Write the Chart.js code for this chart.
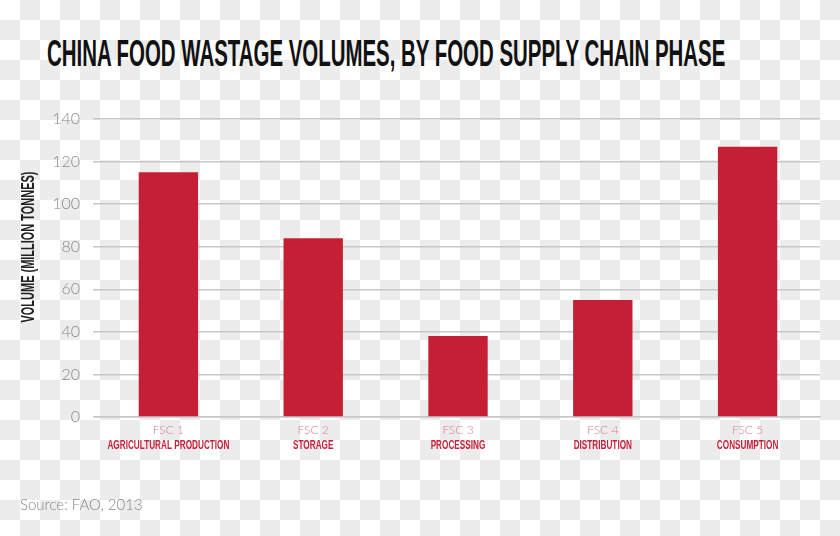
<!DOCTYPE html>
<html>
<head>
<meta charset="utf-8">
<script src="https://cdn.jsdelivr.net/npm/chart.js@4"></script>
<style>
  html, body { margin: 0; padding: 0; }
  body {
    width: 840px; height: 536px; position: relative; overflow: hidden;
    background: repeating-conic-gradient(#ececec 0 25%, #ffffff 0 50%) 0 0 / 40px 40px;
  }
  #title {
    position: absolute; left: 47px; top: 33px; white-space: nowrap;
    font-family: 'Liberation Sans', sans-serif;
    font-weight: bold; font-size: 36px; color: #111;
    transform-origin: 0 0;
  }
  #source {
    position: absolute; left: 20px; top: 495px;
    font-family: Lato, 'Open Sans', sans-serif; font-weight: 300; font-size: 15px; color: #888;
  }
  #wrap { position: absolute; left: 0; top: 0; width: 840px; height: 536px; }
</style>
</head>
<body>
<div id="title">CHINA FOOD WASTAGE VOLUMES, BY FOOD SUPPLY CHAIN PHASE</div>
<div id="wrap"><canvas id="chart"></canvas></div>
<div id="source">Source: FAO, 2013</div>
<script>
// chart data
const phaseCodes = ['FSC 1', 'FSC 2', 'FSC 3', 'FSC 4', 'FSC 5'];
const phaseNames = ['AGRICULTURAL PRODUCTION', 'STORAGE', 'PROCESSING', 'DISTRIBUTION', 'CONSUMPTION'];
const volumes = [115, 84, 38, 55, 127]; // million tonnes
const yMin = 0, yMax = 140, yStep = 20;
const yTitle = 'VOLUME (MILLION TONNES)';

const light = "Lato, 'Open Sans', sans-serif";

// squeeze the title to the reference width (no condensed font installed)
const title = document.getElementById('title');
title.style.transform = 'scaleX(' + (678 / title.offsetWidth) + ')';

// category names and y title are drawn condensed, placed off the x scale
const condensedText = {
    id: 'condensedText',
    afterDraw(chart) {
        const ctx = chart.ctx;
        const x = chart.scales.x;
        ctx.save();
        ctx.textAlign = 'center';
        ctx.textBaseline = 'middle';

        ctx.font = "bold 13px 'Liberation Sans', sans-serif";
        ctx.fillStyle = '#c8203a';
        const sx = 122 / ctx.measureText(phaseNames[0]).width;
        phaseNames.forEach((name, i) => {
            ctx.save();
            ctx.translate(x.getPixelForValue(i), 445);
            ctx.scale(sx, 1);
            ctx.fillText(name, 0, 0);
            ctx.restore();
        });

        ctx.font = "bold 18px 'Liberation Sans', sans-serif";
        ctx.fillStyle = '#222';
        const sy = 151 / ctx.measureText(yTitle).width;
        ctx.translate(29.5, 247);
        ctx.rotate(-Math.PI / 2);
        ctx.scale(sy, 1);
        ctx.fillText(yTitle, 0, 0);
        ctx.restore();
    }
};

new Chart(document.getElementById('chart'), {
    type: 'bar',
    data: {
        labels: phaseCodes,
        datasets: [{
            label: 'Volume (million tonnes)',
            data: volumes,
            backgroundColor: '#c41f35',
            barPercentage: 0.41,
            categoryPercentage: 1
        }]
    },
    options: {
        responsive: true,
        maintainAspectRatio: false,
        animation: false,
        layout: { padding: { top: 119, right: 20, bottom: 99, left: 0 } },
        plugins: { legend: { display: false }, tooltip: { enabled: false } },
        scales: {
            y: {
                min: yMin, max: yMax,
                ticks: {
                    stepSize: yStep, padding: 13,
                    color: '#8a8a8a',
                    font: { family: light, weight: 300, size: 16 }
                },
                grid: { color: '#c8c8c8', lineWidth: 1.5, tickLength: 3 },
                border: { display: false },
                afterFit: (scale) => { scale.width = 96; }
            },
            x: {
                grid: { display: false, drawTicks: false },
                border: { color: '#c8c8c8', width: 1.5 },
                ticks: {
                    color: '#d9808c', padding: 6, maxRotation: 0, autoSkip: false,
                    font: { family: light, weight: 300, size: 12 }
                },
                afterFit: (scale) => { scale.height = 20; }
            }
        }
    },
    plugins: [condensedText]
});
</script>
</body>
</html>
